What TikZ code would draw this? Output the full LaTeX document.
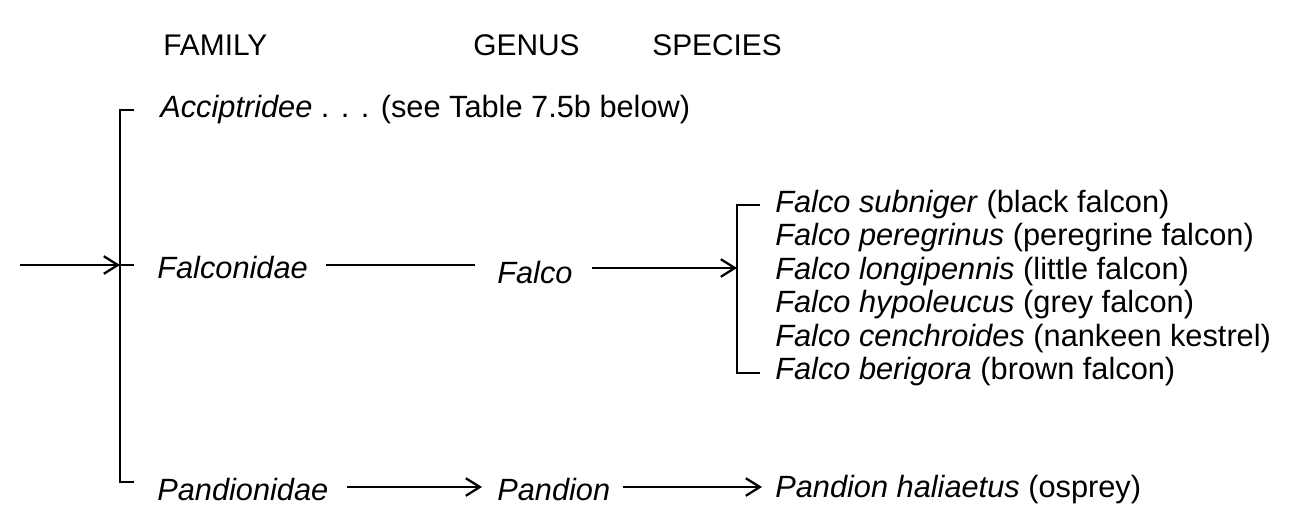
\documentclass[tikz,border=0pt]{standalone}
\usepackage{fontspec}
\setmainfont{Liberation Sans}
\usetikzlibrary{arrows.meta}
\begin{document}
\begin{tikzpicture}[x=0.02cm,y=-0.02cm,
  lbl/.style={anchor=west,inner sep=0pt,font=\fontsize{17.5}{21}\selectfont},
  hd/.style={anchor=west,inner sep=0pt,font=\fontsize{17}{21}\selectfont},
  ln/.style={line width=1.5pt},
  arr/.style={ln,-{Straight Barb[length=8pt,width=10pt,line width=1.3pt]}}]
\useasboundingbox (0,0) rectangle (1301,515);
\node[hd] (fam) at (163,45) {FAMILY};
\node[hd] (gen) at (473,45) {GENUS};
\node[hd] (spe) at (652,45) {SPECIES};
% left bracket
\coordinate (bt) at (120,110);
\coordinate (bb) at (120,482);
\coordinate (btr) at (134,110);
\coordinate (bbr) at (134,482);
\coordinate (bm) at (120,265);
\coordinate (bmr) at (134,265);
\coordinate (in) at (20,265);
\draw[ln] (btr) -- (bt) -- (bb) -- (bbr);
\draw[ln] (bm) -- (bmr);
\draw[arr] (in) -- (bm);
\node[lbl] (acc) at (160,110) {\textit{Acciptridee} . . . (see Table 7.5b below)};
\node[lbl] (fal) at (157,268) {\textit{Falconidae}};
\node[lbl] (fg) at (497,272) {\textit{Falco}};
\draw[ln] (fal.east)+(18,-3) coordinate (fa) (fa) -- (475,265);
\coordinate (sb) at (737,268);
\draw[arr] (592,268) -- (sb);
% species bracket
\coordinate (st) at (737,205);
\coordinate (sbot) at (737,373);
\draw[ln] (760,205) -- (st) -- (sbot) -- (760,373);
\node[lbl] (s1) at (775,205) {\textit{Falco subniger} (black falcon)};
\node[lbl] (s2) at (775,238) {\textit{Falco peregrinus} (peregrine falcon)};
\node[lbl] (s3) at (775,272) {\textit{Falco longipennis} (little falcon)};
\node[lbl] (s4) at (775,305) {\textit{Falco hypoleucus} (grey falcon)};
\node[lbl] (s5) at (775,339) {\textit{Falco cenchroides} (nankeen kestrel)};
\node[lbl] (s6) at (775,372) {\textit{Falco berigora} (brown falcon)};
% Pandion row
\node[lbl] (pf) at (157,490) {\textit{Pandionidae}};
\node[lbl] (pg) at (497,490) {\textit{Pandion}};
\node[lbl] (ps) at (775,490) {\textit{Pandion haliaetus} (osprey)};
\draw[arr] (pf.east)+(18,-3) coordinate (pb) (pb) -- (482,487);
\draw[arr] (pg.east)+(12,-3) coordinate (pa) (pa) -- (762,487);
\end{tikzpicture}
\end{document}
